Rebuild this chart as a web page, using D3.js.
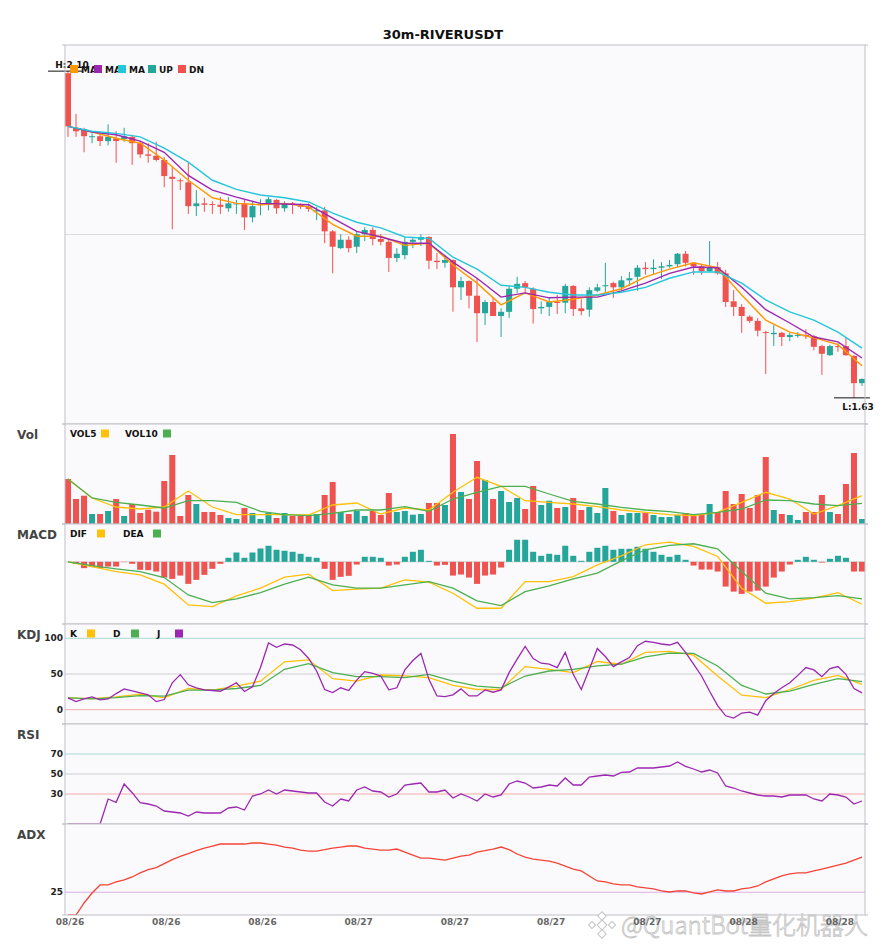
<!DOCTYPE html>
<html>
<head>
<meta charset="utf-8">
<script src="https://cdn.jsdelivr.net/npm/d3@7"></script>
<style>
  body { margin: 0; background: #fff; }
  svg { display: block; font-family: 'DejaVu Sans', sans-serif; }
</style>
</head>
<body>
<svg id="chart" width="885" height="950"></svg>
<script>
'use strict';

// ---- data (30m candles, 08/26 08:00 onward) ----
const OPEN = [2.097,2.019,2.017,2.006,2.007,2.000,2.004,2.003,2.006,1.997,
  1.981,1.979,1.973,1.949,1.944,1.941,1.907,1.911,1.910,1.909,
  1.904,1.910,1.911,1.891,1.909,1.911,1.916,1.904,1.911,1.909,
  1.906,1.900,1.901,1.871,1.847,1.859,1.849,1.867,1.873,1.860,
  1.856,1.833,1.837,1.856,1.859,1.863,1.829,1.826,1.830,1.791,
  1.800,1.779,1.754,1.770,1.750,1.756,1.789,1.797,1.789,1.761,
  1.763,1.770,1.769,1.793,1.761,1.759,1.786,1.793,1.797,1.791,
  1.801,1.806,1.819,1.817,1.819,1.821,1.824,1.839,1.826,1.821,
  1.814,1.820,1.811,1.771,1.763,1.749,1.743,1.727,1.724,1.726,
  1.720,1.722,1.723,1.721,1.707,1.694,1.707,1.707,1.693,1.654];
const HIGH = [2.100,2.039,2.019,2.011,2.011,2.024,2.014,2.019,2.009,1.999,
  1.997,1.999,1.977,1.963,1.947,1.969,1.930,1.919,1.914,1.920,
  1.920,1.916,1.916,1.913,1.917,1.920,1.917,1.914,1.913,1.911,
  1.911,1.906,1.906,1.873,1.867,1.864,1.870,1.877,1.877,1.867,
  1.859,1.847,1.863,1.863,1.867,1.864,1.840,1.837,1.831,1.806,
  1.801,1.804,1.773,1.776,1.761,1.793,1.806,1.800,1.791,1.771,
  1.777,1.780,1.796,1.794,1.774,1.791,1.796,1.826,1.799,1.807,
  1.813,1.823,1.827,1.831,1.827,1.830,1.840,1.843,1.826,1.823,
  1.857,1.827,1.816,1.787,1.767,1.751,1.747,1.729,1.737,1.727,
  1.726,1.727,1.731,1.723,1.709,1.709,1.711,1.720,1.694,1.661];
const LOW = [2.006,2.006,1.984,1.997,1.993,1.994,1.969,1.999,1.966,1.976,
  1.969,1.971,1.934,1.874,1.930,1.896,1.893,1.899,1.896,1.896,
  1.899,1.896,1.873,1.884,1.894,1.901,1.896,1.899,1.896,1.903,
  1.899,1.887,1.854,1.811,1.846,1.841,1.840,1.857,1.851,1.851,
  1.813,1.827,1.831,1.847,1.850,1.817,1.817,1.819,1.756,1.773,
  1.761,1.713,1.737,1.750,1.720,1.747,1.783,1.784,1.739,1.753,
  1.750,1.753,1.754,1.750,1.751,1.749,1.784,1.783,1.776,1.786,
  1.793,1.786,1.809,1.809,1.803,1.819,1.820,1.821,1.809,1.809,
  1.813,1.809,1.763,1.750,1.726,1.740,1.721,1.667,1.707,1.707,
  1.714,1.719,1.717,1.701,1.666,1.693,1.699,1.693,1.633,1.650];
const CLOSE = [2.021,2.014,2.007,2.007,2.000,2.006,2.000,2.007,1.997,1.981,
  1.979,1.973,1.950,1.946,1.943,1.907,1.911,1.909,1.909,1.906,
  1.911,1.911,1.891,1.907,1.910,1.917,1.904,1.911,1.909,1.906,
  1.903,1.901,1.871,1.849,1.859,1.847,1.867,1.873,1.860,1.856,
  1.833,1.839,1.856,1.859,1.863,1.829,1.827,1.830,1.791,1.800,
  1.779,1.754,1.770,1.750,1.756,1.789,1.796,1.791,1.760,1.763,
  1.770,1.769,1.793,1.760,1.757,1.787,1.791,1.794,1.791,1.801,
  1.804,1.819,1.817,1.819,1.821,1.823,1.839,1.826,1.821,1.814,
  1.819,1.811,1.770,1.763,1.750,1.743,1.729,1.726,1.726,1.720,
  1.723,1.723,1.721,1.706,1.696,1.707,1.706,1.694,1.654,1.660];
const VOLUME = [450,250,283,100,100,130,250,80,200,110,
  143,123,430,690,80,290,200,120,120,90,
  60,50,160,110,50,110,60,110,80,80,
  80,100,290,420,120,100,130,80,130,90,
  310,120,130,93,100,210,210,190,900,320,
  250,630,440,250,330,220,260,150,380,190,
  233,160,170,260,140,170,110,360,130,90,
  110,110,110,90,70,70,90,110,80,90,
  200,120,330,200,300,160,290,670,140,100,
  90,40,120,120,290,120,100,400,710,50];

// lines sampled every SAMPLE_STEP candles (indices 0, 3, 6 ... 99)
const SAMPLE_STEP = 3;
const MA5 = [2.021,2.013,2.004,1.997,1.973,1.944,1.919,1.911,1.909,1.911,1.906,1.881,1.864,1.864,1.851,1.854,1.823,
  1.797,1.766,1.783,1.770,1.774,1.780,1.789,1.806,1.817,1.826,1.819,1.780,1.744,1.727,1.719,1.709,1.679];
const MA10 = [2.021,2.013,2.009,2.000,1.984,1.951,1.930,1.920,1.911,1.910,1.909,1.890,1.871,1.863,1.854,1.854,1.827,
  1.804,1.777,1.783,1.776,1.777,1.777,1.786,1.797,1.811,1.820,1.819,1.791,1.759,1.740,1.720,1.713,1.690];
const MA20 = [2.021,2.014,2.011,2.006,1.990,1.970,1.944,1.931,1.923,1.919,1.913,1.897,1.884,1.876,1.863,1.861,1.834,
  1.817,1.794,1.791,1.784,1.780,1.780,1.784,1.791,1.804,1.813,1.813,1.797,1.773,1.756,1.744,1.727,1.704];
const VOL5 = [450,260,170,150,170,330,170,93,93,93,90,190,210,100,160,140,317,
  467,377,233,217,200,173,140,117,93,83,117,217,317,250,100,183,283];
const VOL10 = [450,260,217,190,160,233,233,217,127,93,83,107,140,140,173,127,250,
  317,377,377,300,227,200,167,140,123,93,117,150,240,233,200,183,207];
// MACD in units of 1e-3
const DIF = [0,-4.7,-9.7,-13,-22.3,-43,-44.7,-34,-26.3,-15.3,-12.3,-28.7,-27.3,-26.3,-18,-20.3,-31.3,
  -46.3,-46.3,-19.7,-19.7,-14.7,-3,6,17,19.7,15.3,5.3,-26.3,-41.3,-39.7,-36.3,-30.7,-42.3];
const DEA = [0,-3.7,-7,-9.7,-15.7,-33,-40.7,-37,-30.7,-22.3,-15.3,-23,-26.3,-26.3,-23,-19.7,-26.3,
  -39,-43.7,-29.7,-24,-17,-11.3,1,12,16.3,18,13,-9.7,-31.3,-37,-35.7,-33.7,-37];
const KDJ_K = [16.5,15.6,17.9,21.7,16.5,29.7,27.4,33,40,67,69.8,43.4,40.1,48.6,47.5,44.8,34,
  28.3,28.3,60.4,56.6,51.9,67.5,63.7,80.2,81.6,76.4,47.2,20.3,17,28.3,41,48.1,35.4];
const KDJ_D = [16.5,15.1,17,19.8,18.9,27.4,27.4,29.7,34,56.6,64.6,51.9,46.2,46.2,44.8,49.5,40.1,
  33,30.7,47.2,54.2,56.6,61.3,63.7,74.1,79.2,78.8,61.3,34,22,25.9,35.4,43.4,39.2];

// per-candle series
const MACD_HIST = [0,-2,-6.3,-5.3,-6.3,-4.7,-4.7,-0.3,-2,-8,
  -8.3,-9.7,-15.7,-17,-13.7,-22,-18,-13,-7,-2,
  4,9.3,4,9.3,13.3,16,12,11,10,8,
  5,4,-7,-18,-15,-14,-2.7,5,5,4,
  -3.7,-2.7,5,10,12,1,-3.7,-3,-13.7,-12.7,
  -15.7,-22,-13.7,-12.7,-5.7,12,22,22,10,6,
  8,7,16,6,1,10,14,16,12,13,
  13,15,13,10,7,5,7,2,-3.7,-7.7,
  -7.7,-9.7,-24.7,-29.7,-32,-29.7,-28.7,-24.7,-15.7,-9.7,
  -2.7,2,5,2,-0.7,3,6,4,-9.7,-9.7];
const KDJ_J = [16.5,11.3,15.1,17.9,13.7,15.1,22.6,29.2,26.4,23.6,
  20.8,11.3,14.2,37.7,49.1,34.9,30.7,27.8,26.9,25.9,
  31.6,37.7,25.5,32.1,59,93.4,87.3,92,90.6,84,
  71.7,54.2,28.3,24.1,30.7,26.9,41.5,53.3,50.9,47.2,
  27.8,30.7,55.7,68.9,78.8,42.5,19.3,18.4,20.8,29.2,
  19.3,19.3,27.8,24.5,27.8,51.9,70.8,88.7,71.7,65.1,
  63.7,59,80.2,49.5,28.3,56.6,85.8,74.5,60.4,67,
  73.1,89.6,95.8,94.3,92,90.6,94.3,80.2,63.7,47.2,
  25.9,5.7,-8.5,-11.8,-4.7,-3.3,-7.5,12.7,22.6,30.7,
  37.7,48.1,59,55.7,46.2,57.5,60.4,49.5,29.7,23.6];
const RSI = [0,0,0,0,0,25,21.7,40,31.3,21.3,
  20,18,13,12,11,8,12,11,11,11,
  16,17,14,28,30,34,30,34,33,32,
  31,31,22,18,25,23,34,37,33,32,
  27,30,39,40,41,32,32,34,26,30,
  27,23,30,27,29,40,43,41,36,37,
  39,38,46,39,39,47,48,49,48,51.7,
  52,56,56,56,57,58,62,57.7,55,52,
  54,51,38,36,33,31,29,28,28,27,
  29,29,29,25,23,30,29,27,20,23];
const ADX = [0,0,13.2,24.2,33,33,36.3,38.5,41.8,46.2,
  49.8,52,56.4,60.8,64.5,67.4,70.7,73.6,75.8,78,
  78,78,78,79.1,79.1,78,76.9,74.7,73.6,71.4,
  70.3,70.3,71.8,73.6,74.7,75.8,75.8,73.6,72.5,71.4,
  71.4,72.5,69.2,65.9,62.6,62.6,61.5,60.4,62.6,64.8,
  65.9,69.2,70.7,72.5,74.7,71.8,67,63.7,61.5,60.4,
  59.3,57.1,53.8,50.5,48.4,42.9,37.4,36.3,34.1,33,
  33,30.8,29.7,28.6,26.4,25.3,26.4,26.4,24.2,23.1,
  25.3,27.5,26.4,26.4,28.6,29.7,31.9,36.3,39.6,42.9,
  45.1,46.2,46.2,48.4,50.5,52.7,54.9,57.1,60.4,63.7];

const TICK_IDX = [0, 12, 24, 36, 48, 60, 72, 84, 96];
const TICK_LABELS = ['08/26','08/26','08/26','08/27','08/27','08/27','08/27','08/28','08/28'];

// ---- styles ----
const UP = '#26a69a', DN = '#ef5350';
const C_MA = ['#ff9800', '#9c27b0', '#26c6da'];
const C_Y = '#ffc107', C_G = '#4caf50', C_P = '#9c27b0', C_R = '#f44336';
const BORDER = '#c0c0c8', PLOT_BG = '#fafafc';

const N = CLOSE.length;
const X0 = 65, X1 = 865;
const svg = d3.select('#chart');

const x = d3.scaleBand().domain(d3.range(N)).range([X0, X1]).paddingInner(0.25).paddingOuter(0);
const bw = x.bandwidth();
const cx = (i) => x(i) + bw / 2;
const isUp = (i) => CLOSE[i] >= OPEN[i];

let clipId = 0;
function panel(top, bottom, label) {
  const g = svg.append('g');
  g.append('rect').attr('x', X0).attr('y', top).attr('width', X1 - X0)
    .attr('height', bottom - top).attr('fill', PLOT_BG);
  const id = 'clip' + clipId++;
  svg.append('clipPath').attr('id', id).append('rect')
    .attr('x', X0).attr('y', top).attr('width', X1 - X0).attr('height', bottom - top);
  const refs = g.append('g');
  const marks = g.append('g').attr('clip-path', `url(#${id})`);
  const over = g.append('g');
  if (label) {
    over.append('text').attr('x', 17).attr('y', top + 15).attr('font-size', 12)
      .attr('font-weight', 'bold').attr('fill', '#444').text(label);
  }
  return { g, refs, marks, over, top, bottom };
}

function refLine(p, y, v, color, label) {
  p.refs.append('line').attr('x1', X0).attr('x2', X1)
    .attr('y1', y(v)).attr('y2', y(v)).attr('stroke', color).attr('stroke-width', 1);
  if (label !== undefined) {
    p.over.append('text').attr('x', 63).attr('y', y(v)).attr('dy', '0.35em')
      .attr('text-anchor', 'end').attr('font-size', 9).attr('font-weight', 'bold')
      .attr('fill', '#222').text(label);
  }
}

function drawLine(p, values, y, color, step = 1, width = 1.3) {
  const line = d3.line().x((d, k) => cx(k * step)).y((d) => y(d));
  p.marks.append('path').datum(values).attr('d', line)
    .attr('fill', 'none').attr('stroke', color).attr('stroke-width', width);
}

// text + swatch legend used by the sub panels
function legend(p, items) {
  items.forEach((it) => {
    p.over.append('text').attr('x', it.x).attr('y', p.top + 13).attr('font-size', 9)
      .attr('font-weight', 'bold').attr('fill', '#111').text(it.name);
    p.over.append('rect').attr('x', it.sx).attr('y', p.top + 5.5)
      .attr('width', 8).attr('height', 8).attr('fill', it.color);
  });
}

function border(p) {
  p.over.append('rect').attr('x', X0).attr('y', p.top).attr('width', X1 - X0)
    .attr('height', p.bottom - p.top).attr('fill', 'none').attr('stroke', BORDER);
  // small edge ticks at the panel corners
  [p.top, p.bottom].forEach((yy) => {
    p.over.append('line').attr('x1', X0 - 3).attr('x2', X0).attr('y1', yy).attr('y2', yy).attr('stroke', BORDER);
    p.over.append('line').attr('x1', X1).attr('x2', X1 + 3).attr('y1', yy).attr('y2', yy).attr('stroke', BORDER);
  });
}

// ---- title ----
svg.append('text').attr('x', 443).attr('y', 39).attr('text-anchor', 'middle')
  .attr('font-size', 13).attr('font-weight', 'bold').attr('fill', '#111').text('30m-RIVERUSDT');

// ---- main candles ----
const main = panel(45, 424);
const lo = d3.min(LOW), hi = d3.max(HIGH);
const pad = (hi - lo) * 0.08;
const yP = d3.scaleLinear().domain([lo - pad, hi + pad]).range([424, 45]);
main.refs.append('line').attr('x1', X0).attr('x2', X1)
  .attr('y1', (45 + 424) / 2).attr('y2', (45 + 424) / 2).attr('stroke', '#dcdce0');

main.marks.selectAll('line.wick').data(d3.range(N)).join('line')
  .attr('x1', cx).attr('x2', cx)
  .attr('y1', (i) => yP(HIGH[i])).attr('y2', (i) => yP(LOW[i]))
  .attr('stroke', (i) => (isUp(i) ? UP : DN)).attr('stroke-width', 1);
main.marks.selectAll('rect.body').data(d3.range(N)).join('rect')
  .attr('x', (i) => x(i)).attr('width', bw)
  .attr('y', (i) => yP(Math.max(OPEN[i], CLOSE[i])))
  .attr('height', (i) => Math.max(1, Math.abs(yP(OPEN[i]) - yP(CLOSE[i]))))
  .attr('fill', (i) => (isUp(i) ? UP : DN));

[MA5, MA10, MA20].forEach((s, k) => drawLine(main, s, yP, C_MA[k], SAMPLE_STEP, 1.4));

// high / low markers
const iHi = HIGH.indexOf(hi), iLo = LOW.indexOf(lo);
main.over.append('line').attr('x1', cx(iHi) - 20).attr('x2', cx(iHi) + 15)
  .attr('y1', yP(hi)).attr('y2', yP(hi)).attr('stroke', '#111');
main.over.append('text').attr('x', cx(iHi) + 4).attr('y', yP(hi) - 3).attr('text-anchor', 'middle')
  .attr('font-size', 9).attr('font-weight', 'bold').attr('fill', '#111').text('H:' + hi.toFixed(2));
main.over.append('line').attr('x1', cx(iLo) - 20).attr('x2', cx(iLo) + 16)
  .attr('y1', yP(lo)).attr('y2', yP(lo)).attr('stroke', '#111');
main.over.append('text').attr('x', cx(iLo) + 4).attr('y', yP(lo) + 12).attr('text-anchor', 'middle')
  .attr('font-size', 9).attr('font-weight', 'bold').attr('fill', '#111').text('L:' + lo.toFixed(2));

// main legend: swatch then text, later items overlap earlier ones
[['MA', C_MA[0], 70], ['MA', C_MA[1], 94], ['MA', C_MA[2], 118], ['UP', UP, 148], ['DN', DN, 178]]
  .forEach(([name, color, sx]) => {
    main.over.append('rect').attr('x', sx).attr('y', 65).attr('width', 8).attr('height', 8).attr('fill', color);
    main.over.append('text').attr('x', sx + 11).attr('y', 72.5).attr('font-size', 9)
      .attr('font-weight', 'bold').attr('fill', '#111').text(name);
  });
border(main);

// ---- volume ----
const vol = panel(424, 524, 'Vol');
const yV = d3.scaleLinear().domain([0, d3.max(VOLUME) / 0.9]).range([524, 424]);
vol.marks.selectAll('rect').data(d3.range(N)).join('rect')
  .attr('x', (i) => x(i)).attr('width', bw)
  .attr('y', (i) => yV(VOLUME[i])).attr('height', (i) => yV(0) - yV(VOLUME[i]))
  .attr('fill', (i) => (isUp(i) ? UP : DN));
drawLine(vol, VOL5, yV, C_Y, SAMPLE_STEP);
drawLine(vol, VOL10, yV, C_G, SAMPLE_STEP);
legend(vol, [{ name: 'VOL5', x: 70, sx: 101, color: C_Y }, { name: 'VOL10', x: 125, sx: 163, color: C_G }]);
border(vol);

// ---- MACD ----
const macd = panel(524, 624, 'MACD');
const mExt = d3.extent([...DIF, ...DEA, ...MACD_HIST]);
const mPad = (mExt[1] - mExt[0]) * 0.23;
const yM = d3.scaleLinear().domain([mExt[0] - mPad, mExt[1] + mPad]).range([624, 524]);
refLine(macd, yM, 0, '#d4d4d8');
macd.marks.selectAll('rect').data(d3.range(N)).join('rect')
  .attr('x', (i) => x(i)).attr('width', bw)
  .attr('y', (i) => yM(Math.max(0, MACD_HIST[i])))
  .attr('height', (i) => Math.abs(yM(MACD_HIST[i]) - yM(0)))
  .attr('fill', (i) => (MACD_HIST[i] >= 0 ? UP : DN));
drawLine(macd, DIF, yM, C_Y, SAMPLE_STEP);
drawLine(macd, DEA, yM, C_G, SAMPLE_STEP);
legend(macd, [{ name: 'DIF', x: 70, sx: 97, color: C_Y }, { name: 'DEA', x: 123, sx: 153, color: C_G }]);
border(macd);

// ---- KDJ ----
const kdj = panel(624, 724, 'KDJ');
const yK = d3.scaleLinear().domain([-20, 120]).range([724, 624]);
refLine(kdj, yK, 100, '#a6d8d2', '100');
refLine(kdj, yK, 50, '#cfcfd4', '50');
refLine(kdj, yK, 0, '#f5aaaa', '0');
drawLine(kdj, KDJ_K, yK, C_Y, SAMPLE_STEP);
drawLine(kdj, KDJ_D, yK, C_G, SAMPLE_STEP);
drawLine(kdj, KDJ_J, yK, C_P, 1);
legend(kdj, [{ name: 'K', x: 70, sx: 87, color: C_Y }, { name: 'D', x: 113, sx: 131, color: C_G },
  { name: 'J', x: 157, sx: 175, color: C_P }]);
border(kdj);

// ---- RSI ----
const rsi = panel(724, 824, 'RSI');
const yR = d3.scaleLinear().domain([0, 100]).range([824, 724]);
refLine(rsi, yR, 70, '#a6d8d2', '70');
refLine(rsi, yR, 50, '#cfcfd4', '50');
refLine(rsi, yR, 30, '#f5aaaa', '30');
drawLine(rsi, RSI, yR, C_P, 1);
border(rsi);

// ---- ADX ----
const adx = panel(824, 915, 'ADX');
const yA = d3.scaleLinear().domain([0, 100]).range([915, 824]);
refLine(adx, yA, 25, '#dcaee6', '25');
drawLine(adx, ADX, yA, C_R, 1);
border(adx);

// ---- watermark (under the time labels, as in the source) ----
const wm = svg.append('g').attr('fill', '#fff').attr('stroke', '#c4c4c4').attr('stroke-width', 1);
[[602, 925, 3.5], [592, 925, 2.5], [612, 925, 2.5], [602, 916, 3], [602, 934, 3]].forEach(([mx, my, r]) => {
  wm.append('rect').attr('x', mx - r).attr('y', my - r).attr('width', 2 * r).attr('height', 2 * r)
    .attr('transform', `rotate(45 ${mx} ${my})`);
});
wm.append('text').attr('x', 621).attr('y', 934)
  .attr('font-family', "'Noto Sans CJK SC', 'Noto Sans', sans-serif").attr('font-size', 24)
  .attr('font-weight', 300).attr('stroke-width', 0.8)
  .text('@QuantBot量化机器人');

// ---- time axis ----
svg.append('g').selectAll('text').data(TICK_IDX).join('text')
  .attr('x', (i) => cx(i) + 2).attr('y', 925).attr('text-anchor', 'middle')
  .attr('font-size', 9).attr('font-weight', 'bold').attr('fill', '#666')
  .text((d, k) => TICK_LABELS[k]);
</script>
</body>
</html>
